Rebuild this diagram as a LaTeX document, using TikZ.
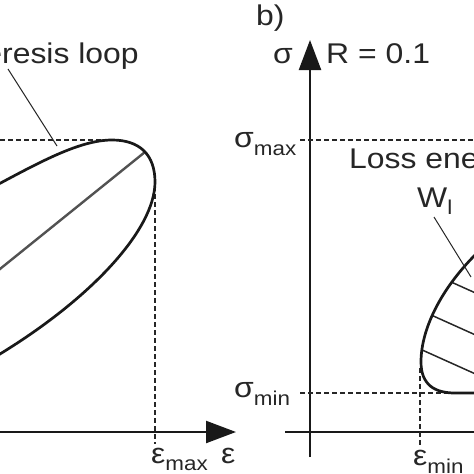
\documentclass[tikz,border=0pt]{standalone}
\usepackage{fontspec}
\setmainfont{Liberation Sans}
\usetikzlibrary{arrows.meta}
\newcommand\subtxt[1]{{\fontsize{20}{22}\selectfont #1}}
\begin{document}
\begin{tikzpicture}[x=1pt,y=-1pt,
  lbl/.style={inner sep=0pt, anchor=base west, xscale=1.12, text=black!85, font=\fontsize{28.5}{30}\selectfont},
  axisln/.style={line width=2.3pt, draw=black!90},
  arrowtipped/.style={-{Triangle[length=30pt,width=22pt]}},
  loopln/.style={line width=2.7pt, draw=black!90},
  dashln/.style={line width=1.2pt, dash pattern=on 5pt off 3pt, draw=black!85},
  leaderln/.style={line width=1pt, draw=black!85},
  hatchln/.style={line width=1.5pt, draw=black!85},
  chordln/.style={line width=2.4pt, draw=black!68}
]
\useasboundingbox (0,0) rectangle (474,474);
\clip (0,0) rectangle (474,474);

% texts
\node[lbl, anchor=base east] (hyst) at (139,63) {Hysteresis loop};
\node[lbl] (b) at (256,25) {b)};
\node[lbl] (sig) at (273,63) {σ};
\node[lbl] (R) at (326,63) {R = 0.1};
\node[lbl] (smax) at (234,147) {σ\raisebox{-8pt}{\subtxt{max}}};
\node[lbl] (smin) at (234,397) {σ\raisebox{-8pt}{\subtxt{min}}};
\node[lbl] (emax) at (151,463) {ε\raisebox{-7pt}{\subtxt{max}}};
\node[lbl] (eps) at (221,463) {ε};
\node[lbl] (emin) at (413,465) {ε\raisebox{-8pt}{\subtxt{min}}};
\node[lbl] (loss) at (349,168) {Loss energy};
\node[lbl] (W) at (417,207) {W\raisebox{-7pt}{\subtxt{l}}};

% axes
\draw[axisln, arrowtipped] (0,432) -- (236,432);
\draw[axisln, arrowtipped] (310,457) -- (310,40);
\draw[axisln] (285,432) -- (476,432);

% dashed guides
\draw[dashln] (0,140) -- (112,140);
\draw[dashln] (155,186) -- (155,444);
\draw[dashln] (300,140) -- (476,140);
\draw[dashln] (300,393) -- (452,393);
\draw[dashln] (420,368) -- (420,447);

% left loop
\draw[chordln] (145,152) -- (-5,273);
\draw[loopln] (-5,186) .. controls (40,162) and (80,140) .. (112,140)
  .. controls (140,140) and (155,155) .. (155,182)
  .. controls (155,230) and (90,300) .. (-5,357);

% right loop with hatching
\begin{scope}
  \clip (476,254) .. controls (440,290) and (421,330) .. (421,362)
    .. controls (421,385) and (435,393) .. (455,393) -- (480,393) -- (480,254) -- cycle;
  \draw[hatchln] (400,340) -- (480,376);
  \draw[hatchln] (400,301) -- (480,337);
  \draw[hatchln] (400,259) -- (480,295);
\end{scope}
\draw[loopln] (476,254) .. controls (440,290) and (421,330) .. (421,362)
  .. controls (421,385) and (435,393) .. (455,393) -- (476,393);

% leaders
\draw[leaderln] (8,69) -- (57,146);
\draw[leaderln] (434,217) -- (471,277);
\end{tikzpicture}
\end{document}
